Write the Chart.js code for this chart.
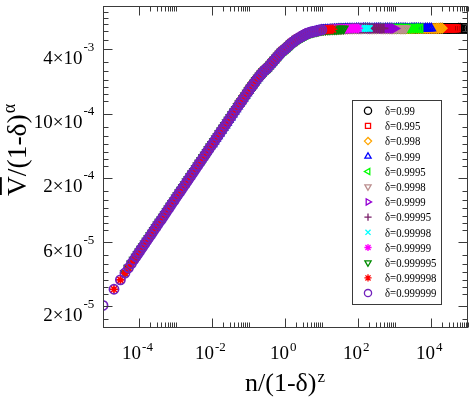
<!DOCTYPE html>
<html><head><meta charset="utf-8">
<script src="https://cdn.jsdelivr.net/npm/chart.js@4.4.1/dist/chart.umd.min.js"></script>
<style>html,body{margin:0;padding:0;background:#fff;overflow:hidden}#wrap{position:relative;width:474px;height:397px}</style>
</head><body><div id="wrap"><canvas id="c"></canvas></div>
<script>
// ---- data ----
const deltaLabels = ['0.99','0.995','0.998','0.999','0.9995','0.9998','0.9999','0.99995','0.99998','0.99999','0.999995','0.999998','0.999999'];
const seriesColors = ['#000000','#ff0000','#ffa500','#0000ff','#00ff00','#bc8f8f','#9400d3','#7a1f6a','#00ffff','#ff00ff','#008b00','#ff0000','#7221bc'];
const seriesShapes = ['circle','rect','rectRot','triangle','triangle','triangle','triangle','cross','crossRot','star','triangle','star','circle'];
const seriesRotation = [0,0,0,0,-90,180,90,0,0,0,180,0,0];
// master curve: x = n/(1-delta)^z, y = Vbar/(1-delta)^alpha
const curveX = [1e-5,2e-5,3e-5,4e-5,5e-5,6e-5,7e-5,8e-5,9e-5,
 1.00e-4,1.12e-4,1.26e-4,1.41e-4,1.58e-4,1.78e-4,2.00e-4,2.24e-4,2.51e-4,2.82e-4,3.16e-4,3.55e-4,3.98e-4,4.47e-4,5.01e-4,5.62e-4,6.31e-4,7.08e-4,7.94e-4,8.91e-4,
 1.00e-3,1.12e-3,1.26e-3,1.41e-3,1.58e-3,1.78e-3,2.00e-3,2.24e-3,2.51e-3,2.82e-3,3.16e-3,3.55e-3,3.98e-3,4.47e-3,5.01e-3,5.62e-3,6.31e-3,7.08e-3,7.94e-3,8.91e-3,
 1.00e-2,1.12e-2,1.26e-2,1.41e-2,1.58e-2,1.78e-2,2.00e-2,2.24e-2,2.51e-2,2.82e-2,3.16e-2,3.55e-2,3.98e-2,4.47e-2,5.01e-2,5.62e-2,6.31e-2,7.08e-2,7.94e-2,8.91e-2,
 0.100,0.112,0.126,0.141,0.158,0.178,0.200,0.224,0.251,0.282,0.316,0.355,0.398,0.447,0.501,0.562,0.631,0.708,0.794,0.891,
 1.00,1.12,1.26,1.41,1.58,1.78,2.00,2.24,2.51,2.82,3.16,3.55,3.98,4.47,5.01,5.62,6.31,7.08,7.94,8.91,
 10.0,11.2,12.6,14.1,15.8,17.8,20.0,22.4,25.1,28.2,31.6,35.5,39.8,44.7,50.1,56.2,63.1,70.8,79.4,89.1,
 100,112,126,141,158,178,200,224,251,282,316,355,398,447,501,562,631,708,794,891,
 1000,1120,1260,1410,1580,1780,2000,2240,2510,2820,3160,3550,3980,4470,5010,5620,6310,7080,7940,8910,
 10000,11200,12600,14100,15800,17800,20000,22400,25100,28200,31600,35500,39800,44700,50100,56200,63100,70800,79400,89100,
 100000];
const curveY = [2.04e-5,2.85e-5,3.46e-5,3.98e-5,4.43e-5,4.84e-5,5.21e-5,5.56e-5,5.88e-5,
 6.19e-5,6.54e-5,6.91e-5,7.31e-5,7.72e-5,8.16e-5,8.63e-5,9.12e-5,9.64e-5,1.02e-4,1.08e-4,1.14e-4,1.20e-4,1.27e-4,1.34e-4,1.42e-4,1.50e-4,1.59e-4,1.68e-4,1.77e-4,
 1.88e-4,1.98e-4,2.10e-4,2.21e-4,2.34e-4,2.47e-4,2.62e-4,2.76e-4,2.92e-4,3.09e-4,3.26e-4,3.45e-4,3.65e-4,3.86e-4,4.07e-4,4.31e-4,4.55e-4,4.81e-4,5.09e-4,5.38e-4,
 5.68e-4,6.01e-4,6.35e-4,6.71e-4,7.09e-4,7.50e-4,7.93e-4,8.38e-4,8.86e-4,9.36e-4,9.89e-4,1.05e-3,1.11e-3,1.17e-3,1.24e-3,1.31e-3,1.38e-3,1.46e-3,1.54e-3,1.63e-3,
 1.72e-3,1.81e-3,1.91e-3,2.01e-3,2.12e-3,2.22e-3,2.32e-3,2.43e-3,2.54e-3,2.63e-3,2.71e-3,2.83e-3,2.95e-3,3.08e-3,3.22e-3,3.36e-3,3.50e-3,3.65e-3,3.80e-3,3.92e-3,
 4.05e-3,4.19e-3,4.34e-3,4.48e-3,4.63e-3,4.76e-3,4.89e-3,5.00e-3,5.11e-3,5.22e-3,5.33e-3,5.44e-3,5.55e-3,5.62e-3,5.69e-3,5.74e-3,5.79e-3,5.84e-3,5.90e-3,5.95e-3,
 5.99e-3,6.00e-3,6.02e-3,6.03e-3,6.04e-3,6.06e-3,6.07e-3,6.08e-3,6.09e-3,6.11e-3,6.12e-3,6.13e-3,6.14e-3,6.15e-3,6.15e-3,6.16e-3,6.16e-3,6.17e-3,6.17e-3,6.18e-3,
 6.18e-3,6.17e-3,6.17e-3,6.19e-3,6.19e-3,6.18e-3,6.18e-3,6.16e-3,6.16e-3,6.18e-3,6.18e-3,6.19e-3,6.19e-3,6.17e-3,6.17e-3,6.18e-3,6.18e-3,6.18e-3,6.18e-3,6.17e-3,
 6.17e-3,6.18e-3,6.19e-3,6.18e-3,6.18e-3,6.18e-3,6.18e-3,6.17e-3,6.17e-3,6.18e-3,6.18e-3,6.19e-3,6.19e-3,6.18e-3,6.18e-3,6.17e-3,6.17e-3,6.18e-3,6.18e-3,6.18e-3,
 6.18e-3,6.17e-3,6.17e-3,6.18e-3,6.18e-3,6.19e-3,6.19e-3,6.18e-3,6.18e-3,6.17e-3,6.17e-3,6.18e-3,6.18e-3,6.18e-3,6.18e-3,6.19e-3,6.19e-3,6.18e-3,6.18e-3,6.18e-3,
 6.17e-3];
// index range of the master curve covered by each delta series
const seriesStart = [69,63,55,49,43,35,29,23,15,9,3,1,0];
const seriesEnd   = [189,183,175,169,163,155,149,143,135,129,121,115,109];
// ticks
const xTickValues = [1e-4,1e-2,1,1e2,1e4];
const xTickExp = ['-4','-2','0','2','4'];
const yTickValues = [2e-5,7.52e-5,2.83e-4,1.064e-3,4e-3];
const yTickMant = ['2','6','2','10','4'];
const yTickExp = ['-5','-5','-4','-4','-3'];
const xMin = 1e-5, xMax = 1e5, yMin = 1.282e-5, yMax = 9.74e-3;

const SERIF = '"Liberation Serif","Times New Roman",serif';

function seriesData(i){
  const out=[];
  for(let k=seriesStart[i];k<=seriesEnd[i];k++) out.push({x:curveX[k], y:curveY[k]});
  return out;
}

function supText(ctx, base, exp, x0, y, bf, ef, rise){
  ctx.font=bf; const wb=ctx.measureText(base).width;
  ctx.fillText(base,x0,y);
  ctx.font=ef; ctx.fillText(exp,x0+wb+1,y-rise);
}
function supWidth(ctx, base, exp, bf, ef){
  ctx.font=bf; const wb=ctx.measureText(base).width;
  ctx.font=ef; const we=ctx.measureText(exp).width;
  return [wb,we];
}

const decor = {
  id:'decor',
  afterDatasetsDraw(chart){
    const {ctx, chartArea:ca, scales:{x,y}} = chart;
    const L=Math.round(ca.left)+0.5, R=Math.round(ca.right)-0.5, T=Math.round(ca.top)+0.5, B=Math.round(ca.bottom)-0.5;
    ctx.save();
    ctx.strokeStyle='#3a3a3a'; ctx.lineWidth=1;
    ctx.strokeRect(L,T,R-L,B-T);
    ctx.beginPath();
    const tx=(v,len)=>{ if(v<xMin||v>xMax) return; const p=Math.round(x.getPixelForValue(v))+0.5; ctx.moveTo(p,B); ctx.lineTo(p,B-len); ctx.moveTo(p,T); ctx.lineTo(p,T+len); };
    const ty=(v,len)=>{ if(v<yMin||v>yMax) return; const p=Math.round(y.getPixelForValue(v))+0.5; ctx.moveTo(L,p); ctx.lineTo(L+len,p); ctx.moveTo(R,p); ctx.lineTo(R-len,p); };
    xTickValues.forEach(v=>{ tx(v,9); for(let m=2;m<=10;m++) tx(m*v,5); });
    const r = yTickValues[1]/yTickValues[0];
    const downFrac=[0.2,0.34,0.47,0.59,0.70,0.81];
    const upFrac=[0.15,0.28,0.39,0.49,0.59];
    yTickValues.forEach(v=>{ ty(v,9); downFrac.forEach(f=>ty(v*Math.pow(r,-f),5)); });
    upFrac.forEach(f=>ty(yTickValues[yTickValues.length-1]*Math.pow(r,f),5));
    ctx.stroke();
    // tick labels
    ctx.fillStyle='#000'; ctx.textAlign='left'; ctx.textBaseline='alphabetic';
    const bf='19px '+SERIF, ef='13px '+SERIF;
    yTickValues.forEach((v,i)=>{
      const p=y.getPixelForValue(v);
      const base=yTickMant[i]+'\u00d710';
      ctx.font=bf; const wb=ctx.measureText(base).width;
      supText(ctx, base, yTickExp[i], ca.left-20.5-wb, p+14.5, bf, ef, 13);
    });
    xTickValues.forEach((v,i)=>{
      const p=x.getPixelForValue(v);
      const [wb,we]=supWidth(ctx,'10',xTickExp[i],bf,ef);
      supText(ctx,'10',xTickExp[i], p-2-(wb+we+1)/2, 359, bf, ef, 8.5);
    });
    // axis titles
    const tf='26px '+SERIF, sf='17px '+SERIF;
    const [w1,w2]=supWidth(ctx,'n/(1-\u03b4)','z',tf,sf);
    supText(ctx,'n/(1-\u03b4)','z', 285-(w1+w2+1)/2, 391, tf, sf, 9);
    ctx.save();
    ctx.translate(25.5,196); ctx.rotate(-Math.PI/2);
    const tfy='27.5px '+SERIF;
    ctx.font=tfy; const wV=ctx.measureText('V').width;
    ctx.fillText('V',0,0);
    ctx.fillRect(1,-25.5,wV-2,1.8);
    ctx.fillText('/(1-\u03b4)',wV,0);
    const wr=ctx.measureText('/(1-\u03b4)').width;
    ctx.font='18px '+SERIF; ctx.fillText('\u03b1',wV+wr+1,-11);
    ctx.restore();
    ctx.restore();
  },
  afterDraw(chart){
    const ctx=chart.ctx;
    ctx.save();
    const bx=352.5, by=100.5, bw=89, bh=204;
    ctx.fillStyle='#fff'; ctx.fillRect(bx,by,bw,bh);
    ctx.strokeStyle='#3a3a3a'; ctx.lineWidth=1; ctx.strokeRect(bx,by,bw,bh);
    chart.data.datasets.forEach((ds,i)=>{
      const cy=110.7+15.2*i;
      ctx.strokeStyle=seriesColors[i]; ctx.fillStyle='rgba(0,0,0,0)'; ctx.lineWidth=1.3;
      if(Chart.helpers && Chart.helpers.drawPoint){
        Chart.helpers.drawPoint(ctx,{pointStyle:seriesShapes[i],rotation:seriesRotation[i],radius:3.6,borderWidth:1.3},368,cy);
      }
      ctx.fillStyle='#000'; ctx.font='12.5px '+SERIF; ctx.textAlign='left'; ctx.textBaseline='alphabetic';
      ctx.save(); ctx.translate(385,cy+4.3); ctx.scale(0.86,1); ctx.fillText(ds.label,0,0); ctx.restore();
    });
    ctx.restore();
  }
};

new Chart(document.getElementById('c'), {
  type:'scatter',
  data:{ datasets: deltaLabels.map((d,i)=>({
    label:'\u03b4='+d,
    data: seriesData(i),
    pointStyle: seriesShapes[i],
    pointRotation: seriesRotation[i],
    pointRadius:4.6, pointHoverRadius:4.6,
    pointBorderWidth:1.7,
    borderColor: seriesColors[i],
    backgroundColor:'rgba(0,0,0,0)',
    showLine:false,
    order: deltaLabels.length-1-i
  }))},
  options:{
    responsive:true, maintainAspectRatio:false, animation:false,
    layout:{padding:{left:103,right:2,top:0,bottom:69}},
    plugins:{legend:{display:false}, tooltip:{enabled:false}, title:{display:false}},
    events:[],
    scales:{
      x:{type:'logarithmic', min:xMin, max:xMax, display:false, bounds:'data'},
      y:{type:'logarithmic', min:yMin, max:yMax, display:false, bounds:'data'}
    }
  },
  plugins:[decor]
});
</script></body></html>
